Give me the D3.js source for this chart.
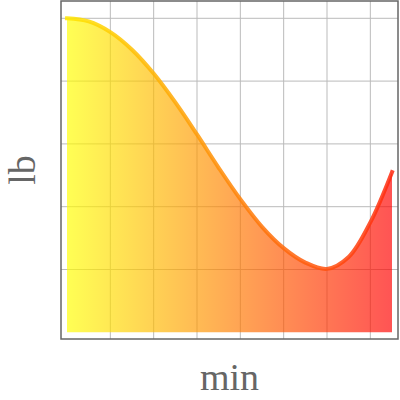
<!DOCTYPE html>
<html>
<head>
<meta charset="utf-8">
<script src="https://cdn.jsdelivr.net/npm/d3@7"></script>
<style>
  body { margin: 0; background: #fff; }
</style>
</head>
<body>
<svg width="400" height="400"></svg>
<script>
// values
const xValues = [0, 0.5, 1, 1.5, 2, 2.5, 3, 3.5, 4, 4.5, 5, 5.5, 6, 6.5, 7, 7.5];
const yValues = [5.0, 4.95, 4.78, 4.50, 4.12, 3.66, 3.15, 2.62, 2.12, 1.68, 1.34, 1.11, 1.01, 1.20, 1.75, 2.55];
const xTicks = [1, 2, 3, 4, 5, 6, 7];
const yTicks = [1, 2, 3, 4, 5];

const data = xValues.map((x, i) => ({x: x, y: yValues[i]}));

const frame = {left: 61, top: 1, right: 398, bottom: 339};

const svg = d3.select("svg");

const x = d3.scaleLinear()
    .domain([0, 7.5])
    .range([67, 392]);

const y = d3.scaleLinear()
    .domain([0, 5])
    .range([332.3, 18.3]);

const defs = svg.append("defs");

const fillGrad = defs.append("linearGradient")
    .attr("id", "fillGrad")
    .attr("gradientUnits", "userSpaceOnUse")
    .attr("x1", x(0)).attr("x2", x(7.5))
    .attr("y1", 0).attr("y2", 0);
fillGrad.append("stop").attr("offset", "0%").attr("stop-color", "#ffff00");
fillGrad.append("stop").attr("offset", "100%").attr("stop-color", "#ff0000");

const lineGrad = defs.append("linearGradient")
    .attr("id", "lineGrad")
    .attr("gradientUnits", "userSpaceOnUse")
    .attr("x1", x(0)).attr("x2", x(7.5))
    .attr("y1", 0).attr("y2", 0);
lineGrad.append("stop").attr("offset", "0%").attr("stop-color", "#ffe600");
lineGrad.append("stop").attr("offset", "100%").attr("stop-color", "#ff2a10");

// grid
const grid = svg.append("g");
grid.selectAll(".vg").data(xTicks).enter().append("line")
    .attr("x1", d => x(d)).attr("x2", d => x(d))
    .attr("y1", frame.top).attr("y2", frame.bottom)
    .attr("stroke", "#bbb").attr("stroke-width", 1);
grid.selectAll(".hg").data(yTicks).enter().append("line")
    .attr("x1", frame.left).attr("x2", frame.right)
    .attr("y1", d => y(d)).attr("y2", d => y(d))
    .attr("stroke", "#bbb").attr("stroke-width", 1);

// area
const area = d3.area()
    .x(d => x(d.x))
    .y0(y(0))
    .y1(d => y(d.y))
    .curve(d3.curveCatmullRom);

svg.append("path")
    .datum(data)
    .attr("d", area)
    .attr("fill", "url(#fillGrad)")
    .attr("fill-opacity", 0.67);

const line = d3.line()
    .x(d => x(d.x))
    .y(d => y(d.y))
    .curve(d3.curveCatmullRom);

svg.append("path")
    .datum(data)
    .attr("d", line)
    .attr("fill", "none")
    .attr("stroke", "url(#lineGrad)")
    .attr("stroke-opacity", 0.85)
    .attr("stroke-width", 4)
    .attr("stroke-linecap", "square");

// frame
svg.append("rect")
    .attr("x", frame.left).attr("y", frame.top)
    .attr("width", frame.right - frame.left)
    .attr("height", frame.bottom - frame.top)
    .attr("fill", "none")
    .attr("stroke", "#666")
    .attr("stroke-width", 1.5);

// axis labels
svg.append("text")
    .attr("x", (frame.left + frame.right) / 2)
    .attr("y", 390)
    .attr("text-anchor", "middle")
    .attr("font-family", "Liberation Serif, serif")
    .attr("font-size", "38px")
    .attr("fill", "#666")
    .text("min");

svg.append("text")
    .attr("transform", `translate(35, ${(frame.top + frame.bottom) / 2}) rotate(-90)`)
    .attr("text-anchor", "middle")
    .attr("font-family", "Liberation Serif, serif")
    .attr("font-size", "38px")
    .attr("fill", "#666")
    .text("lb");
</script>
</body>
</html>
